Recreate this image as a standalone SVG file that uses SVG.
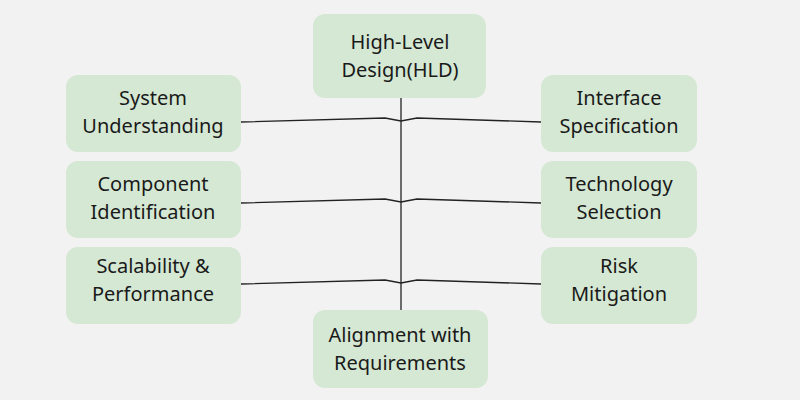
<svg xmlns="http://www.w3.org/2000/svg" width="800" height="400" viewBox="0 0 800 400">
<style>
.n{fill:#d5e8d4;}
.t{font-family:"Source Sans Pro","Noto Sans","Open Sans",sans-serif;font-size:20px;fill:#1a1a1a;text-anchor:middle;}
.c{fill:none;stroke:#222;stroke-width:1.3;}
</style>
<rect width="800" height="400" fill="#f2f2f2"/>
<g id="connectors">
<path class="c" d="M401 98V310"/>
<path class="c" d="M241 122L385 118L401 121L417 118L541 122"/>
<path class="c" d="M241 203L385 199L401 202L417 199L541 203"/>
<path class="c" d="M241 284L385 280L401 283L417 280L541 284"/>
</g>
<g id="hld"><rect class="n" x="313" y="14" width="173" height="84" rx="12"/><text class="t" x="400" y="49">High-Level</text><text class="t" x="400" y="77">Design(HLD)</text></g>
<g id="align"><rect class="n" x="313" y="310" width="175" height="78" rx="12"/><text class="t" x="400" y="342">Alignment with</text><text class="t" x="400" y="370">Requirements</text></g>
<g id="sys"><rect class="n" x="66" y="75" width="175" height="77" rx="12"/><text class="t" x="153" y="105">System</text><text class="t" x="153" y="133">Understanding</text></g>
<g id="comp"><rect class="n" x="66" y="161" width="175" height="77" rx="12"/><text class="t" x="153" y="191">Component</text><text class="t" x="153" y="219">Identification</text></g>
<g id="scal"><rect class="n" x="66" y="247" width="175" height="77" rx="12"/><text class="t" x="153" y="273">Scalability &amp;</text><text class="t" x="153" y="301">Performance</text></g>
<g id="iface"><rect class="n" x="541" y="75" width="156" height="77" rx="12"/><text class="t" x="619" y="105">Interface</text><text class="t" x="619" y="133">Specification</text></g>
<g id="tech"><rect class="n" x="541" y="161" width="156" height="77" rx="12"/><text class="t" x="619" y="191">Technology</text><text class="t" x="619" y="219">Selection</text></g>
<g id="risk"><rect class="n" x="541" y="247" width="156" height="77" rx="12"/><text class="t" x="619" y="273">Risk</text><text class="t" x="619" y="301">Mitigation</text></g>
</svg>
